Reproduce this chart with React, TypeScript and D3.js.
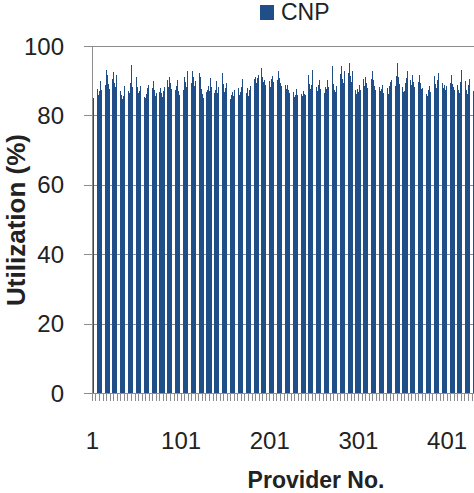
import React from "react";
import * as d3 from "d3";

const utilization: number[] = [
  86.2, 85.0, 84.6, 84.6, 86.0, 90.1, 87.5, 85.8, 86.9, 89.8,
  87.2, 86.0, 85.4, 87.1, 88.0, 88.8, 93.1, 91.5, 89.0, 87.6,
  86.3, 88.9, 92.7, 90.4, 92.4, 89.2, 88.1, 91.7, 89.5, 90.8,
  87.7, 88.4, 86.9, 86.0, 84.8, 85.7, 88.6, 86.2, 85.1, 84.3,
  85.9, 87.0, 86.4, 89.3, 94.6, 88.1, 86.7, 90.3, 87.4, 92.4,
  91.2, 88.3, 86.5, 87.1, 88.4, 86.2, 85.5, 88.2, 86.8, 85.2,
  84.9, 86.3, 87.9, 88.7, 92.2, 89.1, 87.0, 86.1, 87.8, 89.8,
  87.3, 85.6, 86.5, 89.8, 87.1, 85.9, 86.8, 88.0, 86.4, 85.3,
  86.9, 88.2, 87.5, 89.6, 93.6, 90.1, 88.3, 91.2, 89.4, 87.6,
  90.8, 88.5, 86.7, 89.8, 87.4, 88.6, 90.3, 87.0, 85.8, 86.6,
  88.9, 91.2, 89.0, 87.3, 91.0, 89.7, 88.2, 92.7, 90.5, 88.7,
  92.7, 90.1, 89.3, 92.7, 91.0, 88.4, 89.8, 87.6, 94.6, 90.2,
  88.9, 92.2, 91.1, 87.5, 86.2, 85.0, 84.7, 86.1, 85.4, 86.6,
  87.4, 88.6, 86.9, 90.8, 88.1, 89.5, 92.4, 88.0, 86.5, 87.3,
  89.8, 86.4, 88.2, 95.0, 90.6, 88.3, 87.1, 92.2, 89.0, 86.8,
  87.9, 89.4, 92.2, 88.5, 86.3, 85.1, 84.6, 85.8, 86.7, 85.5,
  87.2, 89.0, 91.2, 88.4, 91.2, 87.8, 85.9, 86.6, 88.3, 90.4,
  93.6, 89.1, 86.8, 85.3, 86.4, 88.0, 85.7, 87.2, 88.6, 89.5,
  90.3, 88.8, 89.9, 90.6, 91.2, 89.4, 90.8, 91.7, 90.2, 91.0,
  92.5, 93.6, 91.1, 89.6, 90.3, 88.7, 89.2, 90.0, 88.5, 90.8,
  89.9, 88.3, 90.5, 91.4, 89.6, 88.2, 90.7, 93.1, 91.6, 90.2,
  92.7, 90.9, 89.4, 88.6, 90.1, 91.5, 92.7, 90.3, 88.9, 87.7,
  88.9, 87.2, 86.5, 87.8, 86.1, 85.4, 88.4, 86.7, 85.2, 86.0,
  87.6, 85.9, 86.8, 88.6, 86.3, 84.9, 86.1, 85.5, 87.0, 86.2,
  85.8, 87.4, 88.9, 90.2, 91.7, 89.1, 87.6, 88.8, 93.1, 90.5,
  88.4, 87.2, 89.8, 88.1, 86.9, 88.7, 90.3, 87.5, 86.2, 87.9,
  88.9, 87.0, 86.4, 88.3, 87.6, 90.3, 88.2, 86.8, 87.7, 89.6,
  91.3, 94.1, 89.0, 87.2, 86.6, 88.5, 87.4, 86.3, 88.9, 90.4,
  91.8, 94.1, 90.6, 89.2, 92.7, 90.1, 88.3, 89.4, 91.0, 92.2,
  95.2, 91.4, 89.7, 92.7, 90.2, 88.6, 89.5, 87.4, 86.1, 87.6,
  86.8, 88.9, 87.3, 89.6, 90.8, 92.7, 90.4, 88.5, 91.2, 89.3,
  87.9, 88.7, 90.3, 89.1, 87.5, 90.6, 92.7, 90.1, 88.4, 87.3,
  88.0, 86.5, 88.8, 90.3, 88.1, 86.9, 87.6, 88.9, 86.4, 85.7,
  86.3, 85.5, 86.8, 87.9, 86.2, 88.4, 89.6, 90.3, 88.1, 87.4,
  89.3, 90.7, 88.5, 91.4, 95.2, 91.1, 89.0, 90.4, 92.7, 89.8,
  88.2, 86.7, 87.0, 89.4, 90.8, 92.7, 89.5, 87.3, 88.6, 90.1,
  88.9, 91.7, 89.6, 88.2, 90.5, 92.7, 90.0, 88.4, 89.7, 91.7,
  89.2, 87.6, 88.0, 86.9, 85.4, 86.5, 88.1, 86.2, 85.6, 87.3,
  88.4, 86.8, 89.8, 88.6, 87.1, 89.2, 91.4, 89.0, 87.8, 90.2,
  92.1, 93.6, 90.4, 88.5, 91.7, 89.3, 87.9, 88.8, 87.2, 88.5,
  89.1, 90.3, 88.2, 87.5, 89.4, 91.7, 89.0, 88.1, 87.4, 86.6,
  87.7, 88.3, 88.9, 87.2, 86.5, 89.6, 93.1, 90.2, 87.8, 86.9,
  88.1, 89.8, 87.4, 86.3, 88.7, 90.5, 89.2, 92.7, 90.0, 88.3,
  87.1, 88.6,
];

const providers: number[] = utilization.map((_, i) => i + 1);
const xTickLabels: number[] = [1, 101, 201, 301, 401];
const yTicks: number[] = [0, 20, 40, 60, 80, 100];
const seriesName = "CNP";

const W = 474;
const H = 493;
const left = 92;
const right = 475;
const top = 46;
const bottom = 393;
const barColor = "#1F4E89";
const axisColor = "#8C8C8C";
const font = "'Liberation Sans', Arial, sans-serif";

export default function App() {
  const x = d3
    .scaleBand<number>()
    .domain(providers)
    .range([left, right])
    .paddingInner(0.35)
    .paddingOuter(0.1);
  const y = d3.scaleLinear().domain([0, 100]).range([bottom, top]);
  const step = x.step();
  const minorTicks = providers.filter((p) => (p - 1) % 4 === 0);

  return (
    <svg
      width={W}
      height={H}
      style={{ position: "absolute", left: 0, top: 0, background: "#fff" }}
    >
      {yTicks.map((t) => (
        <line
          key={"g" + t}
          x1={left - 8}
          x2={W}
          y1={Math.round(y(t)) + 0.5}
          y2={Math.round(y(t)) + 0.5}
          stroke={axisColor}
          strokeWidth={1}
        />
      ))}
      <g shapeRendering="crispEdges">
        {utilization.map((v, i) => (
          <rect
            key={i}
            x={x(providers[i])}
            y={y(v)}
            width={x.bandwidth()}
            height={bottom - y(v)}
            fill={barColor}
          />
        ))}
      </g>
      <line x1={left + 0.5} x2={left + 0.5} y1={top} y2={bottom} stroke={axisColor} />
      {minorTicks.map((p) => (
        <line
          key={"t" + p}
          x1={Math.round((x(p) as number) - step * 0.175) + 0.5}
          x2={Math.round((x(p) as number) - step * 0.175) + 0.5}
          y1={bottom}
          y2={bottom + 8}
          stroke={axisColor}
        />
      ))}
      {yTicks.map((t) => (
        <text
          key={"yl" + t}
          x={64}
          y={y(t)}
          dy="0.36em"
          textAnchor="end"
          fontFamily={font}
          fontSize={24}
          fill="#222"
        >
          {t}
        </text>
      ))}
      {xTickLabels.map((p) => (
        <text
          key={"xl" + p}
          x={(x(p) as number) + x.bandwidth() / 2}
          y={449}
          textAnchor="middle"
          fontFamily={font}
          fontSize={24}
          fill="#222"
        >
          {p}
        </text>
      ))}
      <text
        transform="translate(25,220) rotate(-90)"
        textAnchor="middle"
        fontFamily={font}
        fontSize={26}
        fontWeight="bold"
        fill="#222"
      >
        Utilization (%)
      </text>
      <text
        x={316}
        y={488}
        textAnchor="middle"
        fontFamily={font}
        fontSize={23}
        fontWeight="bold"
        fill="#222"
      >
        Provider No.
      </text>
      <rect x={260} y={5} width={14} height={15} fill={barColor} />
      <text x={281} y={20} fontFamily={font} fontSize={23} fill="#222">
        {seriesName}
      </text>
    </svg>
  );
}
